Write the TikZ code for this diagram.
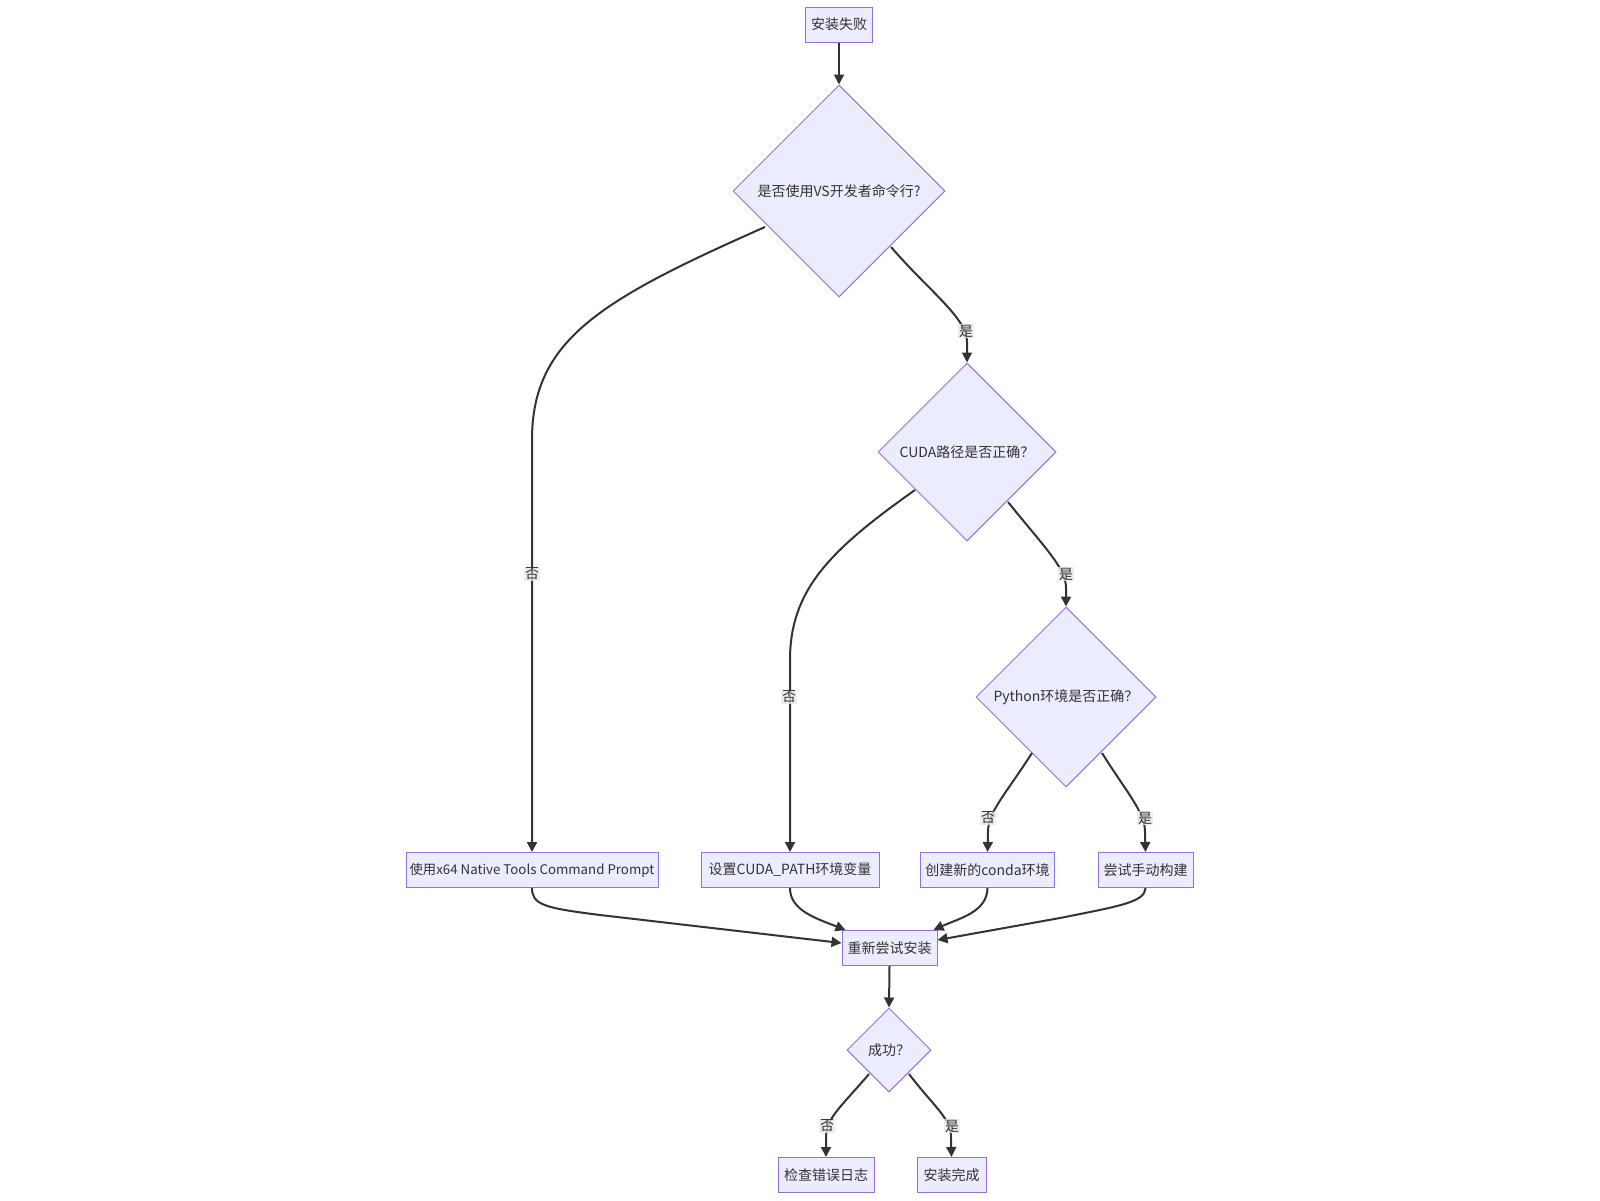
\documentclass[tikz,border=0pt]{standalone}
\usepackage{fontspec}
\setmainfont{Noto Sans CJK SC}
\usetikzlibrary{shapes.geometric,arrows.meta,calc}
\definecolor{nfill}{HTML}{ECECFF}
\definecolor{nline}{HTML}{9370DB}
\definecolor{eline}{HTML}{333333}
\definecolor{lblbg}{HTML}{E8E8E8}
\tikzset{
  boxnode/.style={draw=nline,fill=nfill,line width=1pt,minimum height=35pt,inner xsep=5pt,
    text=eline,font=\fontsize{14pt}{16pt}\selectfont},
  decnode/.style={draw=nline,fill=nfill,line width=1pt,shape=diamond,aspect=1,inner sep=0pt,
    text=eline,font=\fontsize{14pt}{16pt}\selectfont},
  edge/.style={draw=eline,line width=2pt,-{Triangle[length=10pt,width=10pt]}},
  lbl/.style={fill=lblbg,fill opacity=0.8,text opacity=1,inner sep=1pt,text=eline,
    font=\fontsize{14pt}{16pt}\selectfont}
}
\begin{document}
\begin{tikzpicture}[x=1pt,y=-1pt]
\useasboundingbox (0,0) rectangle (1600,1200);
% nodes
\node[boxnode,minimum width=67pt] (top) at (839,24.5) {安装失败};
\node[decnode,minimum width=212pt,minimum height=212pt] (d1) at (839,191) {是否使用VS开发者命令行?};
\node[decnode,minimum width=178pt,minimum height=178pt] (d2) at (967,452) {CUDA路径是否正确？};
\node[decnode,minimum width=180pt,minimum height=180pt] (d3) at (1066,697) {Python环境是否正确？};
\node[boxnode,minimum width=252pt,inner xsep=3pt,font=\fontsize{13.3pt}{16pt}\selectfont] (box1) at (532,870) {使用x64 Native Tools Command Prompt};
\node[boxnode,minimum width=178pt] (box2) at (790,870) {设置CUDA\_PATH环境变量};
\node[boxnode,minimum width=131pt] (conda) at (987.5,870) {创建新的conda环境};
\node[boxnode,minimum width=95pt] (manual) at (1145.5,870) {尝试手动构建};
\node[boxnode,minimum width=95pt] (retry) at (889.5,948) {重新尝试安装};
\node[decnode,minimum width=84pt,minimum height=84pt] (succ) at (889,1050) {成功？};
\node[boxnode,minimum width=96pt] (check) at (826,1175) {检查错误日志};
\node[boxnode,minimum width=69pt] (done) at (951.5,1175) {安装完成};
% edges
\draw[edge] (top.south) -- (d1.north);
\draw[edge] ($(d1)+(-74,36)$) .. controls (600,300) and (532,340) .. (532,440) -- (box1.north);
\draw[edge] ($(d1)+(52,56)$) .. controls (930,292) and (967,318) .. (967,342) -- (d2.north);
\draw[edge] ($(d2)+(-52,38)$) .. controls (830,550) and (790,590) .. (790,660) -- (box2.north);
\draw[edge] ($(d2)+(41,50)$) .. controls (1045,548) and (1066,568) .. (1066,588) -- (d3.north);
\draw[edge] ($(d3)+(-34,56)$) .. controls (1005,795) and (988,812) .. (988,832) -- (conda.north);
\draw[edge] ($(d3)+(36,56)$) .. controls (1127,793) and (1145,812) .. (1145,832) -- (manual.north);
\draw[edge] (box1.south) .. controls (532,905) and (545,908) .. (600,915) -- ([yshift=5pt]retry.west);
\draw[edge] (box2.south) .. controls (790,910) and (815,918) .. ([xshift=4pt]retry.north west);
\draw[edge] (conda.south) .. controls (987,912) and (960,918) .. ([xshift=-4pt]retry.north east);
\draw[edge] (manual.south) .. controls (1145,902) and (1120,906) .. (1060,918) -- ([yshift=8pt]retry.east);
\draw[edge] (retry.south) -- (succ.north);
\draw[edge] ($(succ)+(-20,24)$) .. controls (840,1108) and (826,1118) .. (826,1138) -- (check.north);
\draw[edge] ($(succ)+(20,24)$) .. controls (935,1108) and (951,1118) .. (951,1138) -- (done.north);
% labels
\node[lbl] (l1) at (532,574) {否};
\node[lbl] (l2) at (966,331) {是};
\node[lbl] (l3) at (789,697) {否};
\node[lbl] (l4) at (1066,574) {是};
\node[lbl] (l5) at (988,818) {否};
\node[lbl] (l6) at (1145,818) {是};
\node[lbl] (l7) at (827,1126) {否};
\node[lbl] (l8) at (952,1126) {是};
\end{tikzpicture}
\end{document}
